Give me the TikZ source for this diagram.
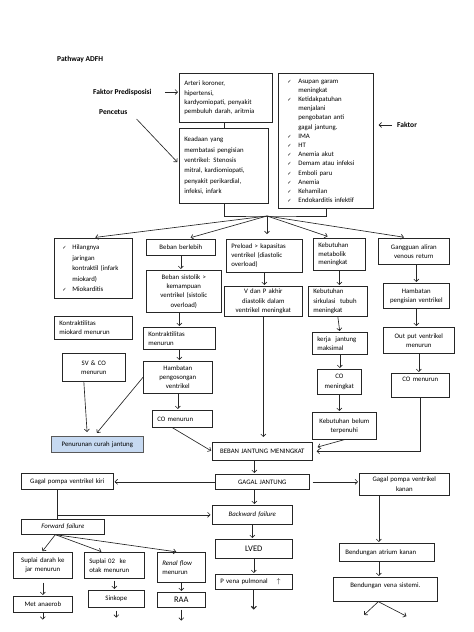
\documentclass[tikz,border=0pt]{standalone}
\usepackage{fontspec}
\setmainfont{Carlito}
\newfontfamily\checkfont{DejaVu Sans}
\usepackage{tikz}
\usetikzlibrary{arrows.meta}

\definecolor{curahblue}{HTML}{C6D9F1}
\newcommand{\boxfont}{\fontsize{6.8}{9.2}\selectfont}
\newcommand{\chk}[1]{\makebox[#1][l]{\hspace{4pt}{\checkfont\fontsize{5}{5}\selectfont ✓}}}

\tikzstyle{box} = [draw=black!85, line width=0.65pt, anchor=north west, inner xsep=5pt, inner ysep=1.5pt, font=\boxfont, align=left]
\tikzstyle{cbox} = [box, inner xsep=2pt, align=center]
\tikzstyle{head_text} = [anchor=west, inner sep=0pt, font=\fontsize{7.5}{9}\selectfont\bfseries]
\tikzstyle{arrow} = [-{Straight Barb[length=2.5pt,width=5pt]}, line width=0.65pt, draw=black!85, shorten >=1pt]
\tikzstyle{fan_arrow} = [arrow, shorten >=5pt]
\tikzstyle{link} = [line width=0.65pt, draw=black!85]

\begin{document}
\begin{tikzpicture}[x=1pt,y=-1pt]
\useasboundingbox (0,0) rectangle (474,632);

% headings
\node[head_text] (title) at (57,59) {Pathway ADFH};
\node[head_text] (predis) at (93,92) {Faktor Predisposisi};
\node[head_text] (pencetus) at (99,112) {Pencetus};
\node[head_text] (faktor) at (397,125) {Faktor};

% causes
\node[box, text width=83pt, minimum height=49pt] (arteri_box) at (179,73) {Arteri koroner,\\ hipertensi,\\ kardyomiopati, penyakit\\ pembuluh darah, aritmia};
\node[box, text width=79pt, minimum height=75pt, font={\fontsize{6.8}{10.4}\selectfont}] (keadaan_box) at (179,128) {Keadaan yang\\ membatasi pengisian\\ ventrikel: Stenosis\\ mitral, kardiomiopati,\\ penyakit perikardial,\\ infeksi, infark};
\node[box, text width=85pt, minimum height=135pt] (faktor_box) at (278,73) {\chk{15pt}Asupan garam\\ \hspace*{15pt}meningkat\\ \chk{15pt}Ketidakpatuhan\\ \hspace*{15pt}menjalani\\ \hspace*{15pt}pengobatan anti\\ \hspace*{15pt}gagal jantung.\\ \chk{15pt}IMA\\ \chk{15pt}HT\\ \chk{15pt}Anemia akut\\ \chk{15pt}Demam atau infeksi\\ \chk{15pt}Emboli paru\\ \chk{15pt}Anemia\\ \chk{15pt}Kehamilan\\ \chk{15pt}Endokarditis infektif};

\draw[arrow, shorten <=13pt] (predis.east) -- (arteri_box.west |- predis.east);
\draw[arrow] ([xshift=9pt,yshift=-7pt]pencetus.east) -- ([xshift=-1pt,yshift=3pt]keadaan_box.west);
\draw[arrow, shorten <=5pt, shorten >=5pt] (faktor.west) -- (faktor_box.east |- faktor.west);

\coordinate (fan_top) at (267,216);
\draw[link] (keadaan_box.north) -- (keadaan_box.north |- arteri_box.south);
\draw[link] (keadaan_box.south) |- (fan_top) -| (faktor_box.south);

% second row
\node[box, text width=70pt, inner xsep=4pt, minimum height=60pt, font={\fontsize{6.8}{10.5}\selectfont}] (hilang_box) at (54,238) {\chk{14pt}Hilangnya\\ \hspace*{14pt}jaringan\\ \hspace*{14pt}kontraktil (infark\\ \hspace*{14pt}miokard)\\ \chk{14pt}Miokarditis};
\node[cbox, text width=65pt, minimum height=16pt] (beban_box) at (146,239) {Beban berlebih};
\node[cbox, text width=71pt, minimum height=42pt] (sistolik_box) at (146,270) {Beban sistolik >\\ kemampuan\\ ventrikel (sistolic\\ overload)};
\node[box, text width=62pt, minimum height=22pt] (kontrak_box) at (143,327) {Kontraktilitas\\ menurun};
\node[cbox, text width=65pt, minimum height=32pt] (hambat_box) at (143,361) {Hambatan\\ pengosongan\\ ventrikel};
\node[box, text width=50pt, minimum height=17pt] (co_down_left) at (152,410) {CO menurun};
\node[box, text width=68pt, minimum height=23pt] (miokard_box) at (54,316) {Kontraktilitas\\ miokard menurun};
\node[cbox, text width=59pt, minimum height=28pt] (svco_box) at (62,353) {SV \& CO\\ menurun};
\node[cbox, text width=88pt, minimum height=16pt, fill=curahblue, draw=black!65] (curah_box) at (51,436) {Penurunan curah jantung};

\node[box, text width=66pt, minimum height=33pt] (preload_box) at (226,239) {Preload > kapasitas\\ ventrikel (diastolic\\ overload)};
\node[cbox, text width=74pt, minimum height=30pt] (vdanp_box) at (224,286) {V dan P akhir\\ diastolik dalam\\ ventrikel meningkat};
\node[box, text width=42pt, minimum height=32pt, font={\fontsize{6.8}{8.5}\selectfont}] (metabolik_box) at (313,238) {Kebutuhan\\ metabolik\\ meningkat};
\node[box, text width=49pt, minimum height=30pt] (sirkulasi_box) at (308,286) {Kebutuhan\\ sirkulasi\ \ tubuh\\ meningkat};
\node[box, text width=45pt, minimum height=22pt] (kerja_box) at (312,332) {kerja\ \ jantung\\ maksimal};
\node[cbox, text width=40pt, minimum height=25pt] (co_up_box) at (317,369) {CO\\ meningkat};
\node[cbox, text width=60pt, minimum height=27pt] (belum_box) at (312,412) {Kebutuhan belum\\ terpenuhi};

\node[cbox, text width=67pt, minimum height=26pt] (gangguan_box) at (378,238) {Gangguan aliran\\ venous return};
\node[cbox, text width=62pt, minimum height=25pt] (pengisian_box) at (383,283) {Hambatan\\ pengisian ventrikel};
\node[cbox, text width=67pt, minimum height=26pt] (output_box) at (383,327) {Out put ventrikel\\ menurun};
\node[cbox, text width=54pt, minimum height=24pt, inner ysep=3pt, text height=5.5pt, text depth=12.5pt] (co_down_right) at (391,373) {CO menurun};

\draw[fan_arrow] (fan_top) -- ([xshift=-3pt]hilang_box.north);
\draw[fan_arrow] (fan_top) -- ([xshift=5pt]beban_box.north);
\draw[fan_arrow] (fan_top) -- (fan_top |- preload_box.north);
\draw[fan_arrow] (fan_top) -- ([xshift=-7pt]metabolik_box.north);
\draw[fan_arrow] (fan_top) -- ([xshift=-5pt]gangguan_box.north);

\draw[arrow] (beban_box.south) -- (beban_box.south |- sistolik_box.north);
\draw[arrow] (sistolik_box.south -| kontrak_box.north) -- (kontrak_box.north);
\draw[arrow] (kontrak_box.south) -- (kontrak_box.south |- hambat_box.north);
\draw[arrow] (hambat_box.south) -- (hambat_box.south |- co_down_left.north);
\draw[arrow, shorten >=4pt] ([xshift=-10pt]svco_box.south) -- ([xshift=-10pt]curah_box.north);
\draw[arrow, shorten >=4pt] (hambat_box.west) -- ([xshift=-3pt]curah_box.north);

\draw[arrow] (preload_box.south) -- (preload_box.south |- vdanp_box.north);
\draw[arrow] (metabolik_box.south) -- (metabolik_box.south |- sirkulasi_box.north);
\draw[arrow] (sirkulasi_box.south) -- (kerja_box.north);
\draw[arrow] (kerja_box.south) -- (kerja_box.south |- co_up_box.north);
\draw[arrow] (co_up_box.south) -- (co_up_box.south |- belum_box.north);

\draw[arrow] (pengisian_box.north |- gangguan_box.south) -- (pengisian_box.north);
\draw[arrow] (pengisian_box.south) -- (pengisian_box.south |- output_box.north);
\draw[arrow] (output_box.south) -- (output_box.south |- co_down_right.north);

% heart failure
\node[cbox, text width=96pt, minimum height=18pt] (bebanj_box) at (212,442) {BEBAN JANTUNG MENINGKAT};
\node[cbox, text width=90pt, minimum height=15pt] (gagal_box) at (215,474) {GAGAL JANTUNG};
\node[cbox, text width=88pt, minimum height=16pt] (kiri_box) at (21,473) {Gagal pompa ventrikel kiri};
\node[cbox, text width=86pt, minimum height=22pt, font={\fontsize{6.8}{10}\selectfont}] (kanan_box) at (359,473) {Gagal pompa ventrikel\\ kanan};
\node[cbox, text width=76pt, minimum height=19pt, font=\boxfont\itshape] (backward_box) at (212,505) {Backward failure};
\node[cbox, text width=79pt, minimum height=15pt, font=\boxfont\itshape] (forward_box) at (21,519) {Forward failure};

\draw[arrow] ([xshift=-10pt]co_down_left.south) -- (bebanj_box.west);
\draw[arrow, shorten >=5pt] (vdanp_box.south) -- (vdanp_box.south |- bebanj_box.north);
\draw[arrow] (belum_box.south) -- ([xshift=4pt,yshift=4pt]bebanj_box.east);
\draw[arrow, shorten >=4pt] (co_down_right.south) |- (bebanj_box.east);

\coordinate (gagal_in) at ([xshift=-8pt]bebanj_box.south);
\coordinate (gagal_out) at ([xshift=-8pt]gagal_box.south);
\draw[arrow] (gagal_in) -- (gagal_in |- gagal_box.north);
\draw[arrow] (gagal_box.west) -- (kiri_box.east |- gagal_box.west);
\draw[arrow] ([xshift=3pt]gagal_box.east) -- (kanan_box.west |- gagal_box.east);
\draw[arrow] (gagal_out) -- (gagal_out |- backward_box.north);

\coordinate (kiri_leg) at ([xshift=-10pt]kiri_box.south);
\draw[link] (kiri_leg) -- (kiri_leg |- forward_box.north);
\draw[arrow, shorten >=1.5pt] (kiri_leg |- backward_box.west) -- (backward_box.west);

% forward failure
\node[cbox, text width=55pt, minimum height=26pt] (darah_box) at (13,552) {Suplai darah ke\\ jar menurun};
\node[box, text width=50pt, minimum height=26pt] (otak_box) at (84,552) {Suplai 02\ \ ke\\ otak menurun};
\node[box, text width=38pt, minimum height=30pt] (renal_box) at (157,552) {\textit{Renal flow}\\ menurun};
\node[cbox, text width=55pt, minimum height=16pt] (met_box) at (13,596) {Met anaerob};
\node[cbox, text width=52pt, minimum height=17pt] (sinkope_box) at (88,590) {Sinkope};
\node[cbox, text width=44pt, minimum height=15pt, font=\fontsize{8.5}{10}\selectfont] (raa_box) at (157,592) {RAA};

\coordinate (forward_fan) at ([xshift=-7.5pt]forward_box.south);
\draw[arrow] (forward_fan) -- ([xshift=-1pt]darah_box.north);
\draw[arrow] (forward_fan) -- ([xshift=-12pt]otak_box.north);
\draw[arrow] (forward_fan) -- ([xshift=-4pt]renal_box.north);
\draw[arrow] (darah_box.south) ++(0,4) -- (darah_box.south |- met_box.north);
\draw[arrow] (otak_box.south) ++(0,2) -- (otak_box.south |- sinkope_box.north);
\draw[arrow] (renal_box.south) -- (renal_box.south |- raa_box.north);
\draw[arrow] (met_box.south) -- ++(0,8);
\draw[arrow] (sinkope_box.south) ++(0,3) -- ++(0,8);
\draw[arrow] (raa_box.south) ++(0,2) -- ++(0,12);

% backward failure
\node[cbox, text width=73pt, minimum height=19pt, font=\fontsize{8.5}{10}\selectfont] (lved_box) at (215,539) {LVED};
\node[box, text width=67pt, minimum height=15pt] (pvena_box) at (215,574) {P vena pulmonal\hspace{9pt}$\uparrow$};
\draw[arrow] (backward_box.south) -- (backward_box.south |- lved_box.north);
\draw[arrow] (lved_box.south) -- (lved_box.south |- pvena_box.north);
\draw[arrow, line width=1.2pt] (pvena_box.south) -- ++(0,21);

% right failure
\node[box, inner xsep=6pt, text width=83pt, minimum height=18pt] (atrium_box) at (339,543) {Bendungan atrium kanan};
\node[cbox, text width=100pt, minimum height=24pt, inner ysep=3pt, text height=7.5pt, text depth=10.5pt] (sistemi_box) at (333,577) {Bendungan vena sistemi.};

\coordinate (atrium_in) at ([xshift=-8pt]atrium_box.north);
\coordinate (atrium_out) at ([xshift=-8pt]atrium_box.south);
\coordinate (sistemi_out) at ([xshift=-7pt]sistemi_box.south);
\draw[arrow] (atrium_in |- kanan_box.south) -- (atrium_in);
\draw[arrow] (atrium_out) -- (atrium_out |- sistemi_box.north);
\draw[arrow] (sistemi_out) -- ++(-15,14);
\draw[arrow] (sistemi_out) -- ++(29,15);
\end{tikzpicture}
\end{document}
